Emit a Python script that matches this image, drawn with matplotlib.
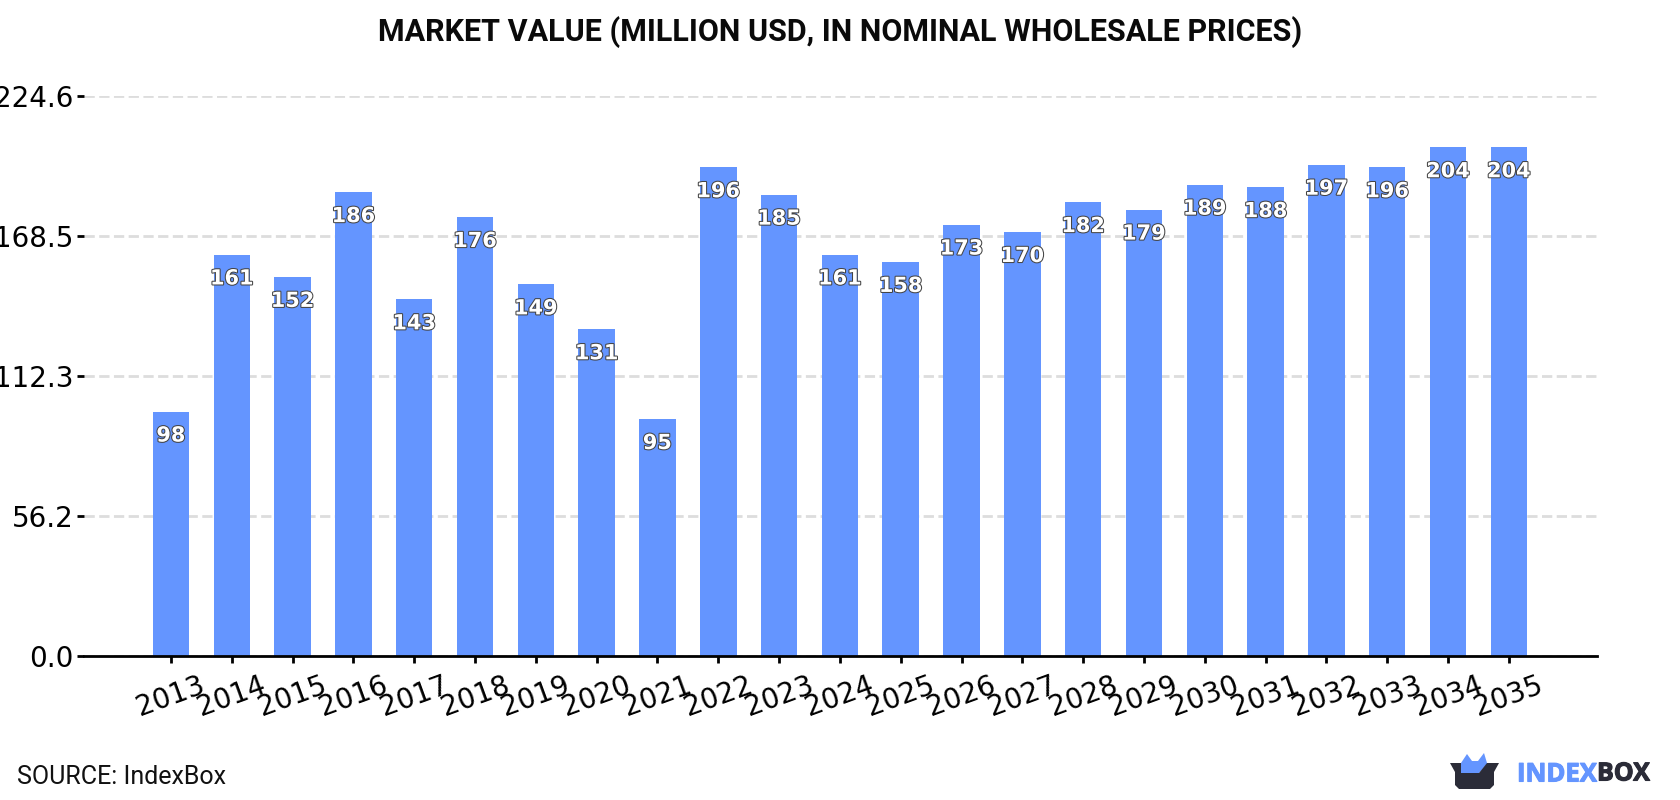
import matplotlib
matplotlib.use("Agg")
import matplotlib.pyplot as plt
import matplotlib.patheffects as pe
from matplotlib.patches import Polygon

years = list(range(2013, 2036))
values = [98, 161, 152, 186, 143, 176, 149, 131, 95, 196, 185, 161, 158,
          173, 170, 182, 179, 189, 188, 197, 196, 204, 204]
y_ticks = [0.0, 56.2, 112.3, 168.5, 224.6]

W, H = 1680, 800
BLUE = "#6495ff"
DARK = "#2b2c38"

fig = plt.figure(figsize=(W / 100, H / 100), dpi=100, facecolor="white")
ax = fig.add_axes([84 / W, 1 - 656 / H, (1597 - 84) / W, (656 - 96) / H])

ax.bar(years, values, width=0.6, color=BLUE, zorder=2)
ax.set_xlim(2013 - 1.43, 2013 + 23.45)
ax.set_ylim(0, 224.6)

ax.set_yticks(y_ticks)
ax.set_yticklabels([f"{t:.1f}" for t in y_ticks])
ax.set_xticks(years)
ax.set_xticklabels(years, rotation=20, ha="center")
ax.tick_params(axis="y", labelsize=20, length=5, width=2, color="black", pad=2.5)
ax.tick_params(axis="x", labelsize=20, length=5, width=2, color="black", pad=6)

ax.grid(axis="y", color="#dddddd", linestyle=(0, (3.7, 1.6)), linewidth=2, zorder=0)
ax.set_axisbelow(True)
for side in ["top", "right", "left"]:
    ax.spines[side].set_visible(False)
ax.spines["bottom"].set_linewidth(2)

# value labels sit just under the top of each bar
for yr, val in zip(years, values):
    ax.annotate(str(val), (yr, val), xytext=(0, -10), textcoords="offset points",
                ha="center", va="top", fontsize=15, fontweight="bold",
                family="DejaVu Sans", color="white", zorder=3,
                path_effects=[pe.withStroke(linewidth=1.5, foreground="#444444")])

fig.text(0.5, 1 - 32 / H, "MARKET VALUE (MILLION USD, IN NOMINAL WHOLESALE PRICES)",
         ha="center", va="center", family="Roboto", fontweight="bold", fontsize=22,
         color="#0a0a0a")
fig.text(17 / W, 1 - 777 / H, "SOURCE: IndexBox", ha="left", va="center",
         family="Roboto", fontsize=18, color="#111111")

# logo, drawn in pixel coordinates
logo = fig.add_axes([0, 0, 1, 1], facecolor="none")
logo.set_xlim(0, W)
logo.set_ylim(H, 0)
logo.axis("off")
logo.add_patch(Polygon([(1461, 763), (1467, 754), (1472, 761), (1478, 761), (1484, 753),
                        (1487, 763), (1487, 764), (1479, 773), (1461, 773)],
                       closed=True, color=BLUE, lw=0))
logo.add_patch(Polygon([(1450, 763), (1461, 763), (1461, 773), (1479, 773), (1487, 763),
                        (1499, 763), (1494, 772), (1494, 785), (1490, 789), (1459, 789),
                        (1455, 785), (1455, 772)],
                       closed=True, color=DARK, lw=0))
# thin stroke in the same colour thickens the wordmark
logo.text(1517, 774, "INDEX", ha="left", va="center", family="Open Sans",
          fontweight="bold", fontsize=18.5, color=BLUE,
          path_effects=[pe.withStroke(linewidth=0.8, foreground=BLUE)])
logo.text(1597, 774, "BOX", ha="left", va="center", family="Open Sans",
          fontweight="bold", fontsize=18, color=DARK,
          path_effects=[pe.withStroke(linewidth=0.8, foreground=DARK)])

fig.savefig("out.png", dpi=100)
